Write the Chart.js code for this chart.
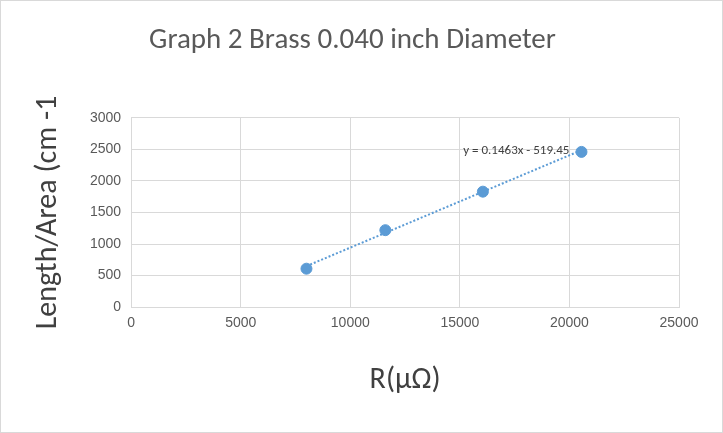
<!DOCTYPE html>
<html>
<head>
<meta charset="utf-8">
<script src="https://cdn.jsdelivr.net/npm/chart.js@4/dist/chart.umd.min.js"></script>
<style>
  html, body { margin: 0; padding: 0; background: #fff; }
  #wrap { position: relative; width: 721px; height: 431px; border: 1px solid #d9d9d9; }
</style>
</head>
<body>
<div id="wrap"><canvas id="c"></canvas></div>
<script>
const resistance = [8000, 11600, 16050, 20550];
const lengthPerArea = [610, 1220, 1830, 2460];
const slope = 0.1463;
const intercept = -519.45;
const trendLabel = 'y = 0.1463x - 519.45';

const trendX = [resistance[0], resistance[resistance.length - 1]];

const labelPlugin = {
    id: 'trendLabel',
    afterDatasetsDraw(chart) {
        const { ctx, scales } = chart;
        ctx.save();
        ctx.font = '13px Calibri, Carlito, "Liberation Sans", sans-serif';
        ctx.fillStyle = '#404040';
        ctx.textAlign = 'right';
        ctx.textBaseline = 'middle';
        ctx.fillText(trendLabel, scales.x.getPixelForValue(20000), scales.y.getPixelForValue(2480));
        ctx.restore();
    }
};

new Chart(document.getElementById('c'), {
    type: 'scatter',
    data: {
        datasets: [
            {
                data: resistance.map((x, i) => ({ x: x, y: lengthPerArea[i] })),
                backgroundColor: '#5b9bd5',
                borderColor: '#5b9bd5',
                pointRadius: 5.5,
                order: 1
            },
            {
                data: trendX.map(x => ({ x: x, y: slope * x + intercept })),
                showLine: true,
                borderColor: '#5b9bd5',
                borderWidth: 2,
                borderDash: [2, 2],
                pointRadius: 0,
                order: 2
            }
        ]
    },
    options: {
        responsive: true,
        maintainAspectRatio: false,
        animation: false,
        layout: { padding: { left: 25, right: 43, top: 10, bottom: 30 } },
        plugins: {
            legend: { display: false },
            tooltip: { enabled: false },
            title: {
                display: true,
                text: 'Graph 2 Brass 0.040 inch Diameter',
                color: '#595959',
                font: { family: 'Calibri, Carlito, "Liberation Sans", sans-serif', size: 29, weight: 'normal' },
                padding: { top: 12, bottom: 60 }
            }
        },
        scales: {
            x: {
                min: 0, max: 25000,
                ticks: { stepSize: 5000, color: '#595959', font: { size: 14 }, padding: 8, callback: v => String(v) },
                grid: { color: '#d9d9d9', drawTicks: false },
                border: { color: '#d9d9d9' },
                title: {
                    display: true,
                    text: 'R(μΩ)',
                    color: '#404040',
                    font: { size: 30, family: 'Calibri, Carlito, "Liberation Sans", sans-serif' },
                    padding: { top: 22 }
                }
            },
            y: {
                min: 0, max: 3000,
                ticks: { stepSize: 500, color: '#595959', font: { size: 14 }, padding: 10, callback: v => String(v) },
                grid: { color: '#d9d9d9', drawTicks: false },
                border: { display: false },
                title: {
                    display: true,
                    text: 'Length/Area (cm -1',
                    color: '#404040',
                    font: { size: 30, family: 'Calibri, Carlito, "Liberation Sans", sans-serif' },
                    padding: { bottom: 14 }
                }
            }
        }
    },
    plugins: [labelPlugin]
});
</script>
</body>
</html>
